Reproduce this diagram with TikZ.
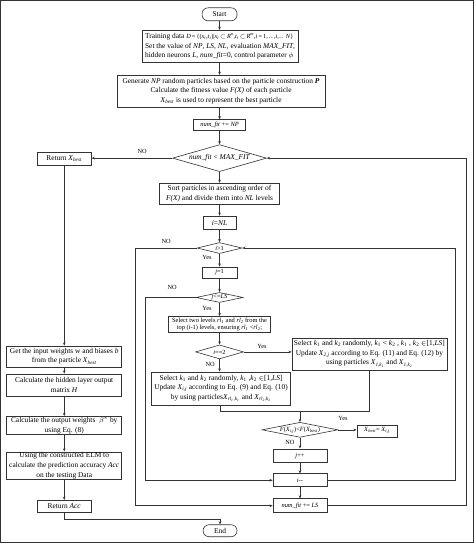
\documentclass[tikz,border=0pt]{standalone}
\usepackage{fontspec}
\setmainfont{Liberation Serif}
\newfontfamily\djv{DejaVu Sans}
\usetikzlibrary{shapes.geometric,arrows.meta}
\newcommand\xs[2]{\textit{#1}\textsubscript{\textit{#2}}}
\newcommand\ki[1]{\textit{k}\textsubscript{#1}}
\newcommand\zb[1]{\makebox[0pt]{#1}}
\newcommand\tdots{{\djv ‥}}
\begin{document}
\begin{tikzpicture}[x=1pt,y=-1pt,
  font=\fontsize{7.4}{9.6}\selectfont,
  line width=0.6pt,
  >={Stealth[length=3.2pt,width=2.6pt]},
  box/.style={draw=black!80, rectangle, inner sep=0.5pt, align=center, fill=white},
  term/.style={draw=black!80, rectangle, rounded corners=6pt, inner sep=0pt, minimum width=35pt, minimum height=13pt},
  dia/.style={draw=black!80, diamond, inner sep=0pt, aspect=1},
  lab/.style={font=\fontsize{6.3}{7}\selectfont, inner sep=0.5pt},
  sm/.style={font=\fontsize{6.4}{7.4}\selectfont},
  every path/.style={draw=black!80}]
\useasboundingbox (0,0) rectangle (474,543);
% main column
\node[term] (start) at (219.5,14) {Start};
\node[box, align=left, minimum width=156pt, minimum height=32pt] (train) at (220,46)
  {Training data {\fontsize{6.3}{7}\selectfont\textit{D}\,=\,\{(\xs{x}{i},\xs{t}{i})|\xs{x}{i}\,$\subset$\,\textit{R}\textsuperscript{\textit{n}},\xs{t}{i}\,$\subset$\,\textit{R}\textsuperscript{\textit{m}},\textit{i}\,=\,1,\,\tdots\,,\textit{i},\tdots\, \textit{N}\}}\\
   Set the value of \textit{NP}, \textit{LS}, \textit{NL}, evaluation \textit{MAX\_FIT},\\
   hidden neurons \textit{L}, \textit{num\_fit}=0, control parameter $\phi$};
\node[box, minimum width=208pt, minimum height=32pt] (gen) at (221,91)
  {Generate \textit{NP} random particles based on the particle construction \textbf{\textit{P}}\\
   Calculate the fitness value \textit{F(X)} of each particle\\
   \xs{X}{best} is used to represent the best particle};
\node[box, minimum width=52pt, minimum height=11pt, sm] (nfnp) at (219.5,125) {\textit{num\_fit} += \textit{NP}};
\node[dia, minimum width=94pt, minimum height=27pt] (d1) at (219.5,158) {\zb{\textit{num\_fit} < \textit{MAX\_FIT}}};
\node[box, minimum width=120pt, minimum height=21pt] (sort) at (219.5,193.5)
  {Sort particles in ascending order of\\ \textit{F(X)} and divide them into \textit{NL} levels};
\node[box, minimum width=33pt, minimum height=13pt] (inl) at (219.5,222.5) {\textit{i}=\textit{NL}};
\node[dia, minimum width=45pt, minimum height=11pt, sm] (d2) at (219.5,248) {\zb{\textit{i}>1}};
\node[box, minimum width=35pt, minimum height=11pt, sm] (j1) at (219.5,272.5) {\textit{j}=1};
\node[dia, minimum width=47pt, minimum height=10pt, sm] (d3) at (219.5,297.5) {\zb{\textit{j}<=\textit{LS}}};
\node[box, minimum width=102pt, minimum height=16pt, sm] (sel2) at (219.5,324.5)
  {Select two levels \textit{rl}\textsubscript{\textit{1}} and \textit{rl}\textsubscript{\textit{2}} from the\\
   top (\textit{i}-1) levels, ensuring \textit{rl}\textsubscript{\textit{1}} <\textit{rl}\textsubscript{\textit{2}};};
\node[dia, minimum width=48pt, minimum height=14pt, sm] (i2) at (219.5,352) {\zb{\textit{i}==2}};
\node[box, minimum width=155pt, minimum height=32pt] (rbox) at (369.5,354)
  {Select \ki{1} and \ki{2} randomly, \ki{1} < \ki{2} , \ki{1} , \ki{2} $\in$[1,\textit{LS}]\\
   Update \xs{X}{2,j} according to Eq. (11) and Eq. (12) by\\
   using particles \xs{X}{1,k\textsubscript{1}} and \xs{X}{1,k\textsubscript{2}}};
\node[box, minimum width=139pt, minimum height=33pt] (lbox) at (221,388.5)
  {Select \ki{1} and \ki{2} randomly, \ki{1} ,\ki{2} $\in$[1,\textit{LS}]\\
   Update \xs{X}{i,j} according to Eq. (9) and Eq. (10)\\
   by using particles\xs{X}{rl\textsubscript{1},k\textsubscript{1}} and \xs{X}{rl\textsubscript{2},k\textsubscript{2}}};
\coordinate (m) at (300,411);
\node[dia, minimum width=76pt, minimum height=15pt, sm] (d4) at (300,430) {\zb{\textit{F}(\xs{X}{i,j})<\textit{F}(\xs{X}{best})}};
\node[box, minimum width=40pt, minimum height=12pt, sm] (xb) at (377,431) {\xs{X}{best}= \xs{X}{i,j}};
\node[box, minimum width=54pt, minimum height=14pt, sm] (jpp) at (300,456) {\textit{j}++};
\node[box, minimum width=54pt, minimum height=13pt, sm] (imm) at (300,480.5) {\textit{i}-{}-};
\node[box, minimum width=54pt, minimum height=14pt, sm] (nfls) at (300,506) {\textit{num\_fit} += \textit{LS}};
\node[term, minimum width=34pt, minimum height=12pt] (end) at (220,531) {End};
% left column
\node[box, minimum width=54pt, minimum height=13pt] (retx) at (64,158.5) {Return \xs{X}{best}};
\node[box, minimum width=115pt, minimum height=21pt] (getw) at (64,356.5)
  {Get the input weights w and biases \textit{b}\\ from the particle \xs{X}{best}};
\node[box, minimum width=115pt, minimum height=22pt] (calh) at (64,385)
  {Calculate the hidden layer output\\ matrix \textit{H}};
\node[box, minimum width=115pt, minimum height=18pt] (calo) at (64,425.5)
  {Calculate the output weights \ $\beta^{*}$ by\\ using Eq. (8)};
\node[box, minimum width=115pt, minimum height=28pt] (elm) at (64,466)
  {Using the constructed ELM to\\ calculate the prediction accuracy \textit{Acc}\\ on the testing Data};
\node[box, minimum width=54pt, minimum height=12pt] (reta) at (64,506.5) {Return \textit{Acc}};
% loop guide coordinates
\coordinate (L1) at (135,0);
\coordinate (L2) at (145,0);
\coordinate (R1) at (455,0);
\coordinate (R2) at (467,0);
% main arrows
\draw[->] (start.south) -- (start.south |- train.north);
\draw[->] (train.south -| start.south) -- (start.south |- gen.north);
\draw[->] (nfnp.north |- gen.south) -- (nfnp.north);
\draw[->] (nfnp.south) -- (d1.north);
\draw[->] (d1.south) -- (sort.north);
\draw[->] (sort.south) -- (inl.north);
\draw[->] (inl.south) -- (d2.north);
\draw[->] (d2.south) -- (j1.north);
\draw[->] (j1.south) -- (d3.north);
\draw[->] (d3.south) -- (sel2.north);
\draw[->] (sel2.south) -- (i2.north);
\draw[->] (i2.east) -- (i2.east -| rbox.west);
\draw[->] (i2.south) -- (i2.south |- lbox.north);
\draw ([xshift=-1pt]lbox.south) |- (m) -| (rbox.south);
\draw[->] (m) -- (d4.north);
\draw[->] (d4.east) -- (d4.east -| xb.west);
\draw[->] (d4.south) -- (jpp.north);
\draw[->] (jpp.south) -- (imm.north);
\draw[->] (imm.south) -- (nfls.north);
% loops
\draw[->] (d1.west) -- (d1.west -| retx.east);
\draw[->] (d2.west) -- (d2.west -| L1) |- (nfls.west);
\draw[->] (d3.west) -- (d3.west -| L2) |- (imm.west);
\draw[->] (imm.east) -- (imm.east -| R1) |- (d2.east);
\draw[->] (nfls.east) -- (nfls.east -| R2) |- (d1.east);
% left column arrows
\draw[->] (retx.south) -- (getw.north);
\draw[->] (getw.south) -- (calh.north);
\draw[->] (calh.south) -- (calo.north);
\draw[->] (calo.south) -- (elm.north);
\draw[->] (elm.south) -- (reta.north);
\draw[->] (reta.south) -- ++(0,6.5) -| (end.north);
% labels
\node[lab] (no1) at (142,151) {NO};
\node[lab] (no2) at (166,241) {NO};
\node[lab] (no3) at (172,287) {NO};
\node[lab] (no4) at (210,365) {NO};
\node[lab] (no5) at (290,443) {NO};
\node[lab] (yes1) at (207,257) {Yes};
\node[lab] (yes2) at (207,309) {Yes};
\node[lab] (yes3) at (262,346.5) {Yes};
\node[lab] (yes4) at (343,419) {Yes};
\end{tikzpicture}
\end{document}
